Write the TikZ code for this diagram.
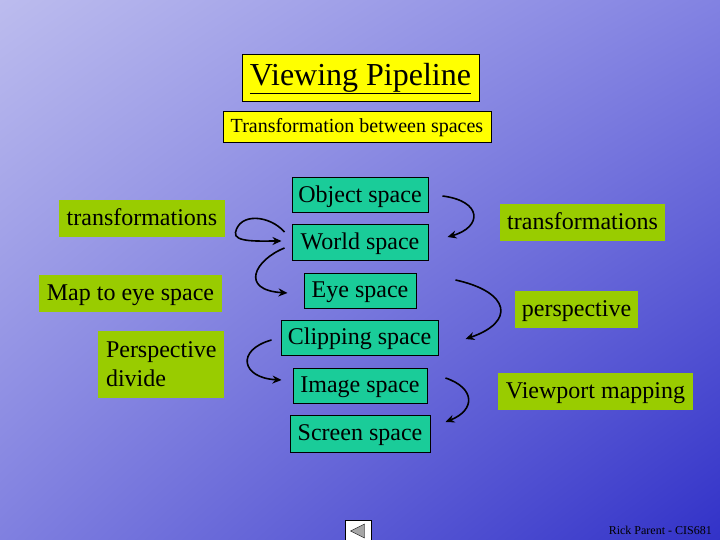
\documentclass[tikz,border=0pt]{standalone}
\usepackage{fontspec}
\setmainfont{Liberation Serif}
\usepackage{tikz}
\usetikzlibrary{arrows.meta,calc,shadings}
\definecolor{bgtl}{RGB}{188,188,238}
\definecolor{bgtr}{RGB}{130,130,226}
\definecolor{bgbl}{RGB}{128,128,224}
\definecolor{bgbr}{RGB}{50,50,200}
\definecolor{spacegreen}{RGB}{26,204,153}
\definecolor{lime}{RGB}{153,204,0}
\definecolor{titleyellow}{RGB}{255,255,0}
\tikzset{
  spacebox/.style={draw=black,line width=1pt,fill=spacegreen,inner sep=2pt,
    font=\fontsize{24}{28}\selectfont,text height=19pt,text depth=5pt,minimum height=35pt},
  stepnote/.style={fill=lime,inner sep=2pt,font=\fontsize{24}{28}\selectfont,
    text height=19pt,text depth=5pt,minimum height=37pt},
  headbox/.style={draw=black,line width=1pt,fill=titleyellow,inner sep=2pt},
  flow/.style={line width=1.6pt,-{Stealth[length=9pt,width=8pt]}}
}
\begin{document}
\begin{tikzpicture}[x=1pt,y=-1pt]
\shade[upper left=bgtl,upper right=bgtr,lower left=bgbl,lower right=bgbr] (0,0) rectangle (720,540);
\useasboundingbox (0,0) rectangle (720,540);
\node[headbox,minimum width=237pt,minimum height=47pt,font=\fontsize{32}{36}\selectfont] (title) at (360.5,78.5) {\underline{Viewing Pipeline}};
\node[headbox,minimum width=268pt,minimum height=31pt,font=\fontsize{20}{24}\selectfont] (sub) at (357,127.5) {Transformation between spaces};
\node[spacebox,minimum width=136pt] (obj) at (360,195.5) {Object space};
\node[spacebox,minimum width=136pt] (world) at (360,242.5) {World space};
\node[spacebox,minimum width=112pt] (eye) at (360,290.5) {Eye space};
\node[spacebox,minimum width=157pt] (clip) at (359.5,337.5) {Clipping space};
\node[spacebox,minimum width=134pt] (image) at (360,385.5) {Image space};
\node[spacebox,minimum width=140pt,minimum height=37pt] (screen) at (360,433.5) {Screen space};
\node[stepnote,minimum width=166pt] (ltrans) at (142,218.5) {transformations};
\node[stepnote,minimum width=183pt] (mapeye) at (130.5,293.5) {Map to eye space};
\node[stepnote,minimum width=126pt,minimum height=67pt,text width=110pt,text height=,text depth=,align=left] (pdiv) at (161,364.5) {Perspective\\[1pt]divide};
\node[stepnote,minimum width=165pt] (rtrans) at (582.5,222.5) {transformations};
\node[stepnote,minimum width=123pt] (persp) at (576.5,309.5) {perspective};
\node[stepnote,minimum width=195pt] (viewport) at (595.5,391.5) {Viewport mapping};
\draw[flow] ($(obj.east)+(14,0.5)$) .. controls +(40,5) and +(35,-10) .. ($(world.east)+(19,-5.5)$);
\draw[flow] ($(world.west)+(-7,-10.5)$) .. controls +(-15,-17) and +(4,-20) .. ($(world.west)+(-56,-10)$)
  .. controls +(-2,10) and +(-22,0) .. ($(world.west)+(-10,-1.5)$);
\draw[flow] ($(world.west)+(-7,5.5)$) .. controls +(-30,12) and +(-48,-3) .. ($(eye.west)+(-16,2.5)$);
\draw[flow] ($(eye.east)+(39,-10.5)$) .. controls +(55,12) and +(50,-17) .. ($(clip.east)+(27,1.5)$);
\draw[flow] ($(clip.west)+(-9,2.5)$) .. controls +(-36,10) and +(-40,-2) .. ($(image.west)+(-11,-5.5)$);
\draw[flow] ($(image.east)+(18,-7.5)$) .. controls +(30,10) and +(30,-12) .. ($(screen.east)+(15,-11.5)$);
\node[draw=black,line width=0.8pt,fill=white,minimum width=26pt,minimum height=22pt,inner sep=0pt] (back) at (358.5,531) {};
\fill[gray!70,draw=black,line width=0.4pt] ($(back.center)+(-8,0)$) -- ($(back.center)+(6,-7)$) -- ($(back.center)+(6,7)$) -- cycle;
\node[font=\fontsize{12}{14}\selectfont,anchor=east,inner sep=0pt] (credit) at (712,530) {Rick Parent - CIS681};
\end{tikzpicture}
\end{document}
